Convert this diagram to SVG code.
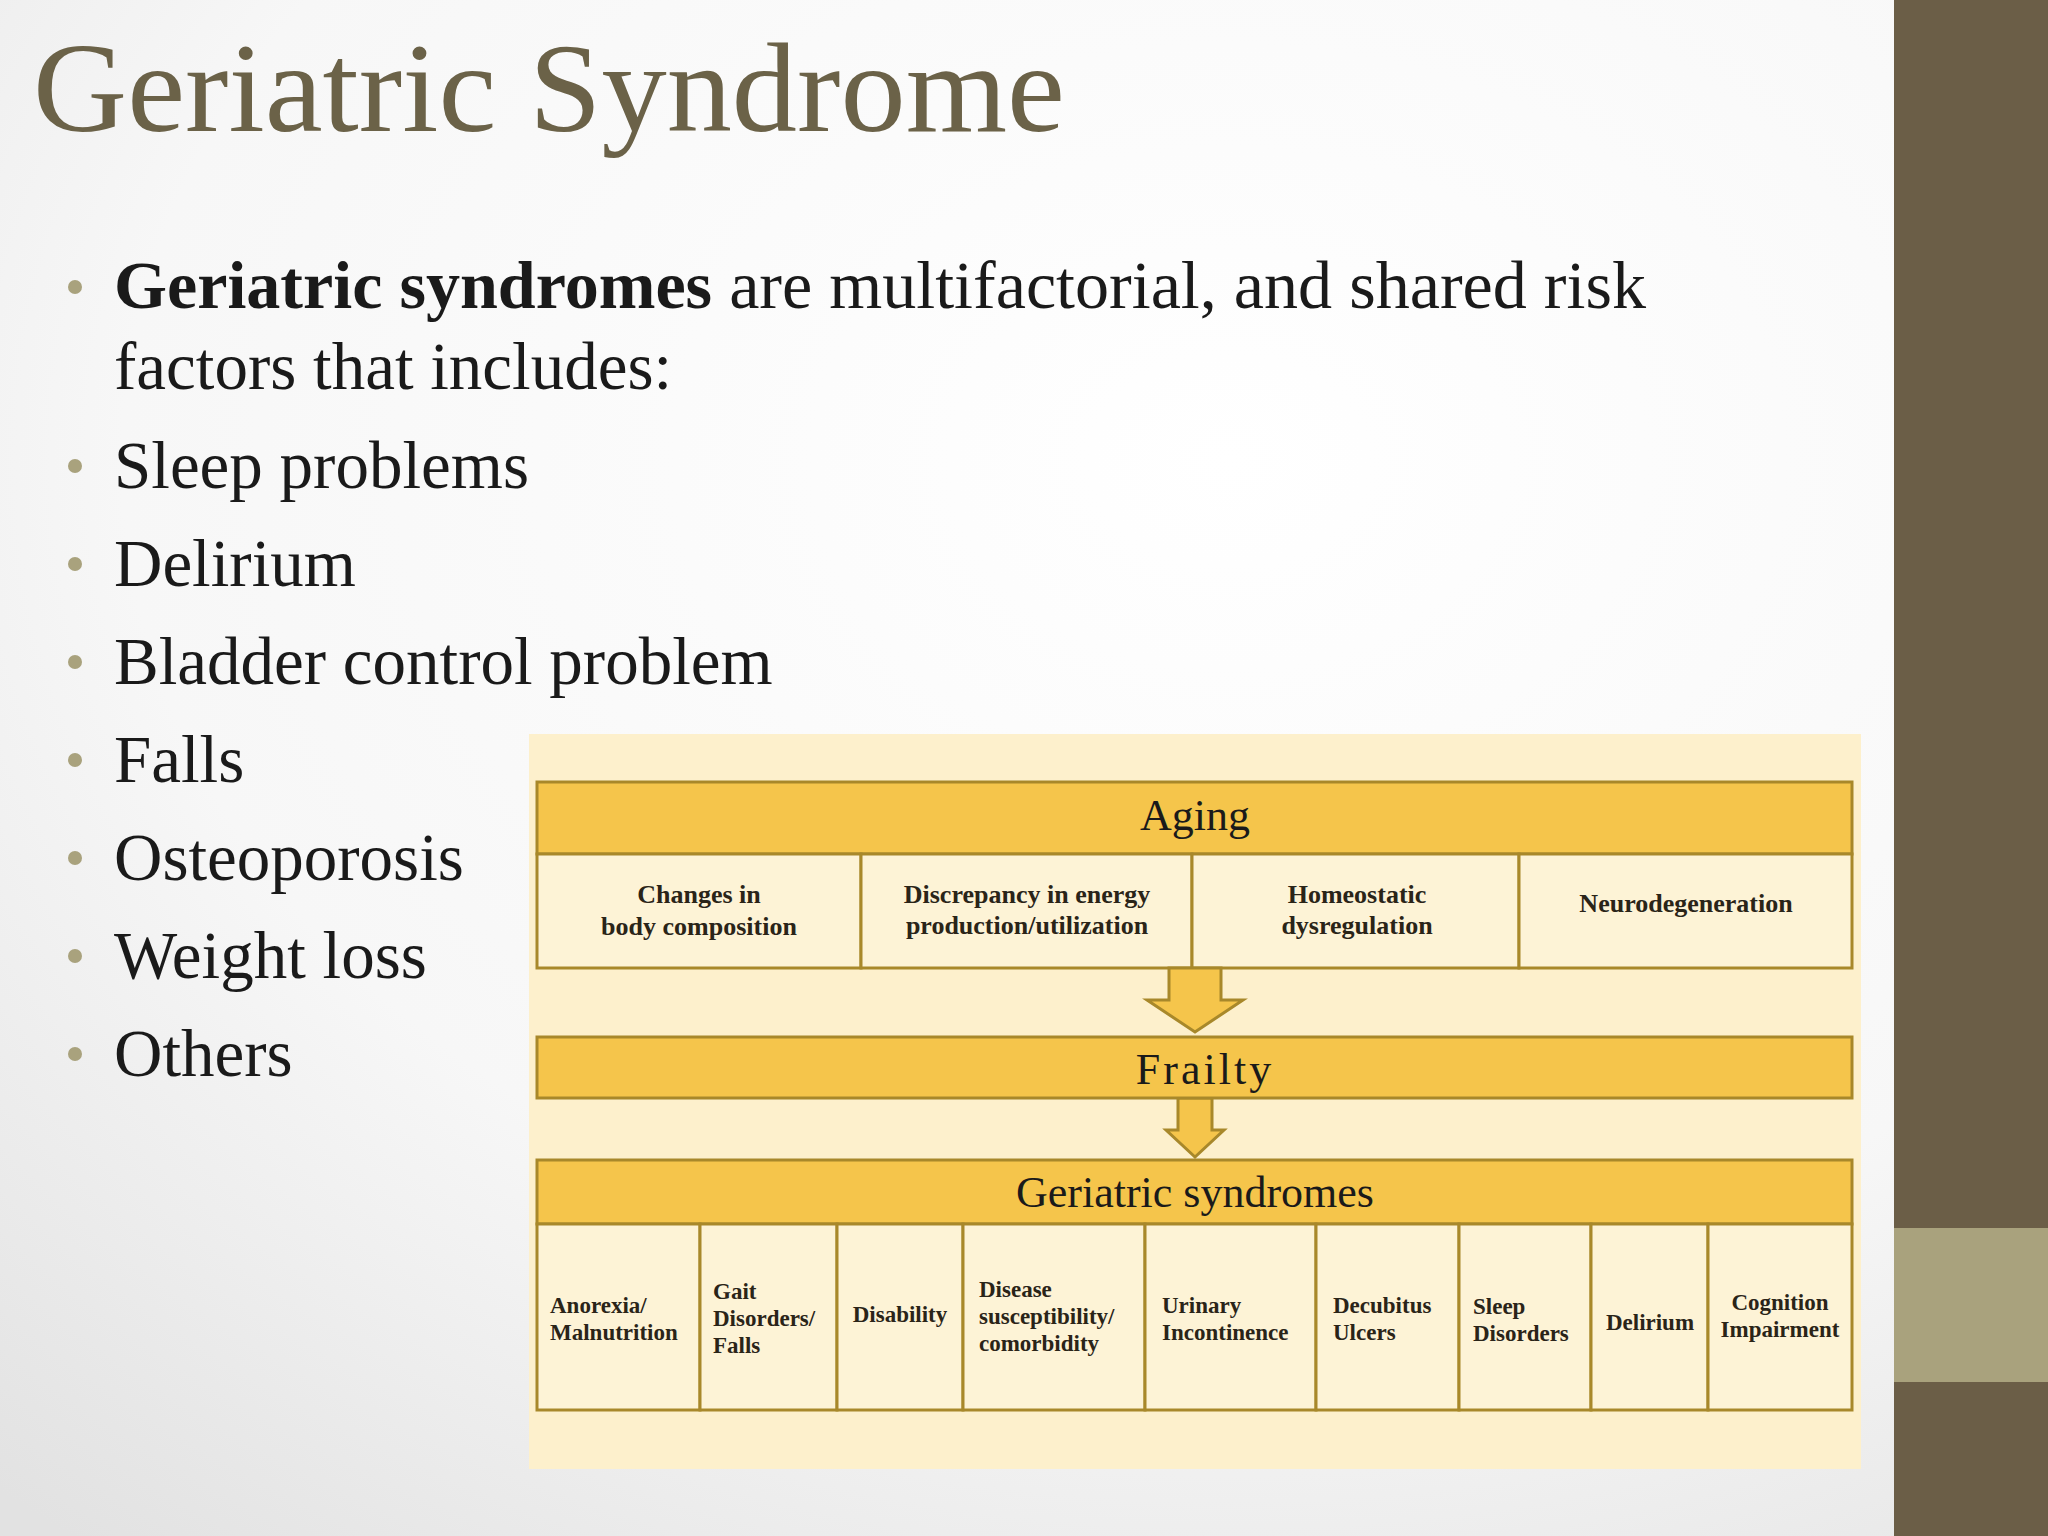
<svg xmlns="http://www.w3.org/2000/svg" width="2048" height="1536" viewBox="0 0 2048 1536">
<defs>
<radialGradient id="bg" cx="0.6" cy="0.3" r="0.9">
<stop offset="0" stop-color="#ffffff"/><stop offset="0.6" stop-color="#f7f7f7"/><stop offset="1" stop-color="#e2e2e2"/>
</radialGradient>
<style>
.bar{fill:#f5c54b;stroke:#a8882a;stroke-width:3}
.cell{fill:#fdf3d6;stroke:#a8882a;stroke-width:3}
.arr{fill:#f5c54b;stroke:#a8882a;stroke-width:3}
.b{font-family:"Liberation Serif",serif;font-size:67px;fill:#1a1a1a}
.h{font-family:"Liberation Serif",serif;fill:#1a1a1a;text-anchor:middle}
.s{font-family:"Liberation Serif",serif;font-size:26px;font-weight:bold;fill:#2a2418;text-anchor:middle}
.t{font-family:"Liberation Serif",serif;font-size:23px;font-weight:bold;fill:#2a2418}
.dot{fill:#a9a27d}
</style>
</defs>
<rect width="2048" height="1536" fill="url(#bg)"/>
<rect x="1894" y="0" width="154" height="1536" fill="#6b5e47"/>
<rect x="1894" y="1228" width="154" height="154" fill="#a9a27d"/>
<text x="33" y="131" font-family="Liberation Serif,serif" font-size="128" fill="#6b6248" textLength="1032" lengthAdjust="spacingAndGlyphs">Geriatric Syndrome</text>
<g id="bullets">
<circle class="dot" cx="75" cy="287" r="7"/>
<text class="b" x="114" y="308" textLength="1532" lengthAdjust="spacingAndGlyphs"><tspan font-weight="bold">Geriatric syndromes</tspan> are multifactorial, and shared risk</text>
<text class="b" x="114" y="389">factors that includes:</text>
<circle class="dot" cx="75" cy="466" r="7"/><text class="b" x="114" y="488">Sleep problems</text>
<circle class="dot" cx="75" cy="564" r="7"/><text class="b" x="114" y="586">Delirium</text>
<circle class="dot" cx="75" cy="662" r="7"/><text class="b" x="114" y="684">Bladder control problem</text>
<circle class="dot" cx="75" cy="760" r="7"/><text class="b" x="114" y="782">Falls</text>
<circle class="dot" cx="75" cy="858" r="7"/><text class="b" x="114" y="880">Osteoporosis</text>
<circle class="dot" cx="75" cy="956" r="7"/><text class="b" x="114" y="978">Weight loss</text>
<circle class="dot" cx="75" cy="1054" r="7"/><text class="b" x="114" y="1076">Others</text>
</g>
<rect x="529" y="734" width="1332" height="735" fill="#fdf0cc"/>
<g id="aging">
<rect class="bar" x="537" y="782" width="1315" height="72"/>
<text class="h" x="1195" y="830" font-size="44">Aging</text>
</g>
<g id="aging-causes">
<rect class="cell" x="537" y="854" width="324" height="114"/>
<rect class="cell" x="861" y="854" width="331" height="114"/>
<rect class="cell" x="1192" y="854" width="327" height="114"/>
<rect class="cell" x="1519" y="854" width="333" height="114"/>
<text class="s" x="699" y="903">Changes in</text><text class="s" x="699" y="935">body composition</text>
<text class="s" x="1027" y="903">Discrepancy in energy</text><text class="s" x="1027" y="934">production/utilization</text>
<text class="s" x="1357" y="903">Homeostatic</text><text class="s" x="1357" y="934">dysregulation</text>
<text class="s" x="1686" y="912">Neurodegeneration</text>
</g>
<g id="connectors">
<path class="arr" d="M1169 968 V1000 H1147 L1195 1032 L1243 1000 H1221 V968 Z"/>
<path class="arr" d="M1178 1098 V1130 H1166 L1195 1157 L1224 1130 H1212 V1098 Z"/>
</g>
<g id="frailty">
<rect class="bar" x="537" y="1037" width="1315" height="61"/>
<text class="h" x="1205" y="1084" font-size="44" letter-spacing="3">Frailty</text>
</g>
<g id="syndromes">
<rect class="bar" x="537" y="1160" width="1315" height="64"/>
<text class="h" x="1195" y="1207" font-size="44">Geriatric syndromes</text>
</g>
<g id="syndrome-list">
<rect class="cell" x="537" y="1224" width="163" height="186"/>
<rect class="cell" x="700" y="1224" width="137" height="186"/>
<rect class="cell" x="837" y="1224" width="126" height="186"/>
<rect class="cell" x="963" y="1224" width="182" height="186"/>
<rect class="cell" x="1145" y="1224" width="171" height="186"/>
<rect class="cell" x="1316" y="1224" width="143" height="186"/>
<rect class="cell" x="1459" y="1224" width="132" height="186"/>
<rect class="cell" x="1591" y="1224" width="117" height="186"/>
<rect class="cell" x="1708" y="1224" width="144" height="186"/>
<text class="t" x="550" y="1313">Anorexia/</text><text class="t" x="550" y="1340">Malnutrition</text>
<text class="t" x="713" y="1299">Gait</text><text class="t" x="713" y="1326">Disorders/</text><text class="t" x="713" y="1353">Falls</text>
<text class="t" x="900" y="1322" text-anchor="middle">Disability</text>
<text class="t" x="979" y="1297">Disease</text><text class="t" x="979" y="1324">susceptibility/</text><text class="t" x="979" y="1351">comorbidity</text>
<text class="t" x="1162" y="1313">Urinary</text><text class="t" x="1162" y="1340">Incontinence</text>
<text class="t" x="1333" y="1313">Decubitus</text><text class="t" x="1333" y="1340">Ulcers</text>
<text class="t" x="1473" y="1314">Sleep</text><text class="t" x="1473" y="1341">Disorders</text>
<text class="t" x="1650" y="1330" text-anchor="middle">Delirium</text>
<text class="t" x="1780" y="1310" text-anchor="middle">Cognition</text><text class="t" x="1780" y="1337" text-anchor="middle">Impairment</text>
</g>
</svg>
